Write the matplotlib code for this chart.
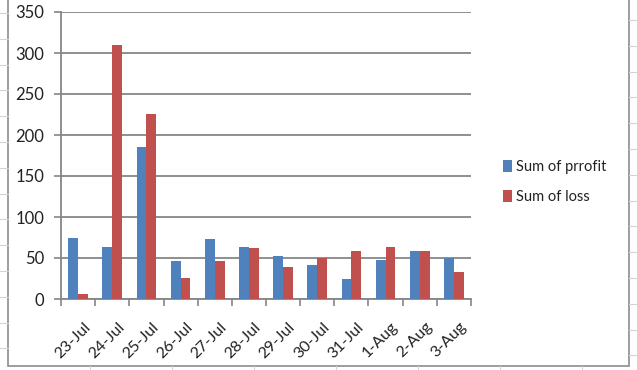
import matplotlib
matplotlib.use("Agg")
import matplotlib.pyplot as plt
import matplotlib.transforms as mtransforms
from matplotlib.patches import Rectangle
from matplotlib.lines import Line2D
import numpy as np

# Data
dates = ["23-Jul", "24-Jul", "25-Jul", "26-Jul", "27-Jul", "28-Jul",
         "29-Jul", "30-Jul", "31-Jul", "1-Aug", "2-Aug", "3-Aug"]
profit = [74, 64, 185, 46, 73, 63, 52, 41, 25, 48, 59, 50]
loss = [6, 310, 226, 26, 46, 62, 39, 50, 59, 63, 59, 33]

BLUE = "#4F81BD"
RED = "#C0504D"
GRID = "#868686"
W, H = 637, 370

plt.rcParams["font.family"] = ["Lato", "DejaVu Sans"]

fig = plt.figure(figsize=(W / 100, H / 100), dpi=100)
fig.patch.set_facecolor("white")

# faint spreadsheet cells behind the chart
for y in np.arange(20, 370, 25.8):
    fig.add_artist(Line2D([0, 8 / W], [1 - (y - 7) / H] * 2, color="#d4d4d4", lw=0.8))
    fig.add_artist(Line2D([629 / W, 1], [1 - y / H] * 2, color="#d4d4d4", lw=0.8))
for x in np.arange(90, 637, 82):
    fig.add_artist(Line2D([x / W] * 2, [0, 4 / H], color="#d4d4d4", lw=0.8))

# chart area border
fig.add_artist(Rectangle((8 / W, 4 / H), 621 / W, 1.2, transform=fig.transFigure,
                         facecolor="white", edgecolor="#8c8c8c", lw=1.2, zorder=0))

ax = fig.add_axes([61 / W, 1 - 299 / H, 410 / W, 287 / H])
ax.set_facecolor("none")

x = np.arange(len(dates))
bw = 1 / 3.5
ax.bar(x - bw / 2, profit, bw, color=BLUE, label="Sum of prrofit", zorder=3)
ax.bar(x + bw / 2, loss, bw, color=RED, label="Sum of loss", zorder=3)

ax.set_xlim(-0.5, len(dates) - 0.5)
ax.set_ylim(0, 350)
ax.set_yticks(range(0, 351, 50))
ax.yaxis.grid(True, color=GRID, lw=1.3, zorder=0)
ax.set_axisbelow(True)

ax.set_xticks(x)
ax.set_xticklabels(dates, rotation=45, ha="right", rotation_mode="anchor")
ax.set_xticks(np.arange(-0.5, len(dates), 1), minor=True)
ax.tick_params(axis="x", which="major", length=0, pad=7, labelsize=11.5, labelcolor="#222222")
ax.tick_params(axis="x", which="minor", length=5, color=GRID, width=1.2)
ax.tick_params(axis="y", length=5, color=GRID, width=1.2, pad=7, labelsize=12,
               labelcolor="#222222")

# Excel puts the end of the rotated label lower and a bit right of the category centre
shift = mtransforms.ScaledTranslation(5 / 100, -11 / 100, fig.dpi_scale_trans)
for lbl in ax.get_xticklabels():
    lbl.set_transform(lbl.get_transform() + shift)

for s in ["top", "right"]:
    ax.spines[s].set_visible(False)
for s in ["left", "bottom"]:
    ax.spines[s].set_color(GRID)
    ax.spines[s].set_linewidth(1.3)

fig.legend(loc="upper left", bbox_to_anchor=(490 / W, 1 - 147 / H), frameon=False,
           fontsize=10.5, handlelength=0.6, handleheight=0.9, handletextpad=0.3,
           labelspacing=1.1, labelcolor="#222222")

fig.savefig("out.png", dpi=100)
